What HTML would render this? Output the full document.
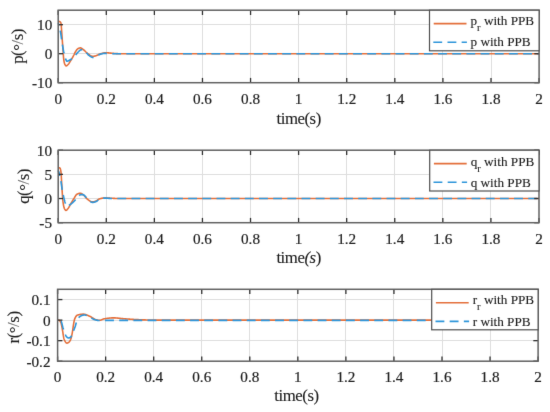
<!DOCTYPE html>
<html><head><meta charset="utf-8"><title>PPB angular rates</title>
<style>
html,body{margin:0;padding:0;background:#fff;width:550px;height:412px;overflow:hidden}
svg{display:block}
.gr{stroke:#dedede;stroke-width:1;fill:none}
.ax{stroke:#303030;stroke-width:1.3;fill:none}
.box{stroke:#626262;stroke-width:1.5;fill:none}
.or{stroke:#E4703C;stroke-width:1.6;fill:none;stroke-linejoin:round}
.bl{stroke:#2E96DA;stroke-width:1.65;fill:none;stroke-dasharray:8.87 5.3;stroke-linejoin:round}
.leg{fill:#fff;stroke:#505050;stroke-width:1.2}
text{font-family:"Liberation Serif", "Times New Roman", serif;fill:#1e1e1e;stroke:#1e1e1e;stroke-width:0.12px}
.tk{font-size:15.2px;stroke-width:0.2px}
.lb{font-size:16.8px;letter-spacing:-0.45px}
.lg{font-size:13.2px}
.sub{font-size:10.5px}
</style></head><body>
<svg width="550" height="412" viewBox="0 0 550 412">
<defs><filter id="soft" x="0" y="0" width="100%" height="100%" color-interpolation-filters="sRGB"><feConvolveMatrix order="3" kernelMatrix="0.00524 0.06192 0.00524 0.06192 0.73137 0.06192 0.00524 0.06192 0.00524" edgeMode="duplicate"/></filter></defs>
<rect width="550" height="412" fill="#fff"/>
<g filter="url(#soft)">
<rect width="550" height="412" fill="#fff"/>
<line x1="106.5" y1="10.2" x2="106.5" y2="82.7" class="gr"/>
<line x1="154.5" y1="10.2" x2="154.5" y2="82.7" class="gr"/>
<line x1="202.5" y1="10.2" x2="202.5" y2="82.7" class="gr"/>
<line x1="250.5" y1="10.2" x2="250.5" y2="82.7" class="gr"/>
<line x1="298.5" y1="10.2" x2="298.5" y2="82.7" class="gr"/>
<line x1="346.5" y1="10.2" x2="346.5" y2="82.7" class="gr"/>
<line x1="394.5" y1="10.2" x2="394.5" y2="82.7" class="gr"/>
<line x1="442.5" y1="10.2" x2="442.5" y2="82.7" class="gr"/>
<line x1="491.5" y1="10.2" x2="491.5" y2="82.7" class="gr"/>
<line x1="58.2" y1="53.5" x2="539.1" y2="53.5" class="gr"/>
<line x1="58.2" y1="24.5" x2="539.1" y2="24.5" class="gr"/>
<path d="M58.2 21.22 L58.44 21.23 L58.68 21.27 L58.92 21.34 L59.16 21.42 L59.41 21.52 L59.65 21.64 L59.89 21.76 L60.13 21.91 L60.37 22.11 L60.61 22.41 L60.85 22.82 L61.09 23.86 L61.33 26.44 L61.57 29.96 L61.82 33.71 L62.06 37.04 L62.3 40.21 L62.54 43.45 L62.78 46.73 L63.02 49.99 L63.26 53.46 L63.5 57.05 L63.74 59.48 L63.99 61.04 L64.23 62.33 L64.47 63.32 L64.71 64.02 L64.95 64.5 L65.19 64.92 L65.43 65.29 L65.67 65.59 L65.91 65.79 L66.15 65.88 L66.4 65.86 L66.64 65.77 L66.88 65.62 L67.12 65.43 L67.36 65.22 L67.6 64.99 L67.84 64.76 L68.08 64.53 L68.32 64.25 L68.57 63.95 L68.81 63.61 L69.05 63.25 L69.29 62.87 L69.53 62.48 L69.77 62.08 L70.01 61.69 L70.25 61.31 L70.49 60.93 L70.73 60.54 L70.98 60.15 L71.22 59.76 L71.46 59.36 L71.7 58.96 L71.94 58.55 L72.18 58.13 L72.42 57.71 L72.66 57.28 L72.9 56.84 L73.15 56.4 L73.39 55.96 L73.63 55.5 L73.87 55.03 L74.11 54.51 L74.35 53.97 L74.59 53.43 L74.83 52.91 L75.07 52.43 L75.31 52.01 L75.56 51.63 L75.8 51.25 L76.04 50.88 L76.28 50.52 L76.52 50.17 L76.76 49.84 L77 49.54 L77.24 49.26 L77.48 49.01 L77.73 48.79 L77.97 48.62 L78.21 48.49 L78.45 48.39 L78.69 48.29 L78.93 48.2 L79.17 48.12 L79.41 48.05 L79.65 47.99 L79.89 47.94 L80.14 47.91 L80.38 47.9 L80.62 47.92 L80.86 47.97 L81.1 48.06 L81.34 48.18 L81.58 48.32 L81.82 48.48 L82.06 48.65 L82.31 48.82 L82.55 49 L82.79 49.18 L83.03 49.34 L83.27 49.51 L83.51 49.7 L83.75 49.89 L83.99 50.1 L84.23 50.32 L84.47 50.55 L84.72 50.78 L84.96 51.02 L85.2 51.27 L85.44 51.51 L85.68 51.76 L85.92 52 L86.16 52.25 L86.4 52.48 L86.64 52.71 L86.89 52.93 L87.13 53.14 L87.37 53.34 L87.61 53.53 L87.85 53.7 L88.09 53.87 L88.33 54.04 L88.57 54.21 L88.81 54.39 L89.05 54.57 L89.3 54.75 L89.54 54.92 L89.78 55.09 L90.02 55.26 L90.26 55.42 L90.5 55.57 L90.74 55.71 L90.98 55.84 L91.22 55.96 L91.47 56.06 L91.71 56.15 L91.95 56.22 L92.19 56.27 L92.43 56.3 L92.67 56.31 L92.91 56.31 L93.15 56.29 L93.39 56.27 L93.63 56.25 L93.88 56.22 L94.12 56.18 L94.36 56.14 L94.6 56.1 L94.84 56.06 L95.08 56.02 L95.32 55.97 L95.56 55.9 L95.8 55.82 L96.05 55.74 L96.29 55.64 L96.53 55.53 L96.77 55.42 L97.01 55.3 L97.25 55.18 L97.49 55.06 L97.73 54.93 L97.97 54.81 L98.21 54.68 L98.46 54.56 L98.7 54.45 L98.94 54.34 L99.18 54.23 L99.42 54.14 L99.66 54.05 L99.9 53.98 L100.14 53.91 L100.38 53.84 L100.63 53.77 L100.87 53.7 L101.11 53.63 L101.35 53.56 L101.59 53.49 L101.83 53.42 L102.07 53.36 L102.31 53.29 L102.55 53.23 L102.79 53.17 L103.04 53.11 L103.28 53.05 L103.52 53 L103.76 52.95 L104 52.9 L104.24 52.86 L104.48 52.82 L104.72 52.78 L104.96 52.75 L105.21 52.73 L105.45 52.71 L105.69 52.7 L105.93 52.69 L106.17 52.69 L106.41 52.69 L106.65 52.7 L106.89 52.71 L107.13 52.73 L107.37 52.74 L107.62 52.77 L107.86 52.79 L108.1 52.82 L108.34 52.85 L108.58 52.88 L108.82 52.91 L109.06 52.94 L109.3 52.97 L109.54 53 L109.79 53.03 L110.03 53.06 L110.27 53.08 L110.51 53.1 L110.75 53.12 L110.99 53.14 L111.23 53.17 L111.47 53.19 L111.71 53.21 L111.95 53.23 L112.2 53.25 L112.44 53.27 L112.68 53.3 L112.92 53.32 L113.16 53.34 L113.4 53.36 L113.64 53.39 L113.88 53.41 L114.12 53.43 L114.37 53.45 L114.61 53.47 L114.85 53.49 L115.09 53.51 L115.33 53.53 L115.57 53.55 L115.81 53.57 L116.05 53.58 L116.29 53.6 L116.53 53.61 L116.78 53.63 L117.02 53.64 L117.26 53.65 L117.5 53.66 L117.74 53.67 L117.98 53.68 L118.22 53.69 L118.46 53.69 L118.7 53.7 L118.95 53.7 L119.19 53.7 L119.43 53.7 L119.67 53.7 L119.91 53.7 L120.15 53.7 L120.39 53.7 L120.63 53.7 L120.87 53.7 L121.11 53.7 L121.36 53.7 L121.6 53.7 L121.84 53.7 L122.08 53.7 L122.32 53.7 L122.56 53.7 L122.8 53.7 L123.04 53.7 L123.28 53.7 L123.53 53.7 L123.77 53.7 L124.01 53.7 L124.25 53.7 L124.49 53.7 L124.73 53.7 L124.97 53.7 L125.21 53.7 L125.45 53.7 L125.69 53.7 L125.94 53.7 L126.18 53.7 L126.42 53.7 L126.66 53.7 L126.9 53.7 L127.14 53.7 L127.38 53.7 L127.62 53.7 L127.86 53.7 L128.11 53.7 L128.35 53.7 L128.59 53.7 L128.83 53.7 L129.07 53.7 L129.31 53.7 L129.55 53.7 L129.79 53.7 L130.03 53.7 L130.27 53.7 L130.52 53.7 L130.76 53.7 L131 53.7 L131.24 53.7 L131.48 53.7 L131.72 53.7 L131.96 53.7 L132.2 53.7 L132.44 53.7 L132.69 53.7 L132.93 53.7 L133.17 53.7 L133.41 53.7 L133.65 53.7 L133.89 53.7 L134.13 53.7 L134.37 53.7 L134.61 53.7 L134.85 53.7 L135.1 53.7 L135.34 53.7 L135.58 53.7 L135.82 53.7 L136.06 53.7 L136.3 53.7 L136.54 53.7 L136.78 53.7 L137.02 53.7 L137.27 53.7 L137.51 53.7 L137.75 53.7 L137.99 53.7 L138.23 53.7 L138.47 53.7 L138.71 53.7 L138.95 53.7 L139.19 53.7 L139.43 53.7 L139.68 53.7 L139.92 53.7 L140.16 53.7 L140.4 53.7 L140.64 53.7 L140.88 53.7 L141.12 53.7 L141.36 53.7 L141.6 53.7 L141.85 53.7 L142.09 53.7 L142.33 53.7 L142.57 53.7 L142.81 53.7 L143.05 53.7 L143.29 53.7 L143.53 53.7 L143.77 53.7 L144.01 53.7 L144.26 53.7 L144.5 53.7 L144.74 53.7 L144.98 53.7 L145.22 53.7 L145.46 53.7 L145.7 53.7 L145.94 53.7 L146.18 53.7 L146.43 53.7 L146.67 53.7 L146.91 53.7 L147.15 53.7 L147.39 53.7 L147.63 53.7 L147.87 53.7 L148.11 53.7 L148.35 53.7 L148.59 53.7 L148.84 53.7 L149.08 53.7 L149.32 53.7 L149.56 53.7 L149.8 53.7 L150.04 53.7 L150.28 53.7 L150.52 53.7 L150.76 53.7 L151.01 53.7 L151.25 53.7 L151.49 53.7 L151.73 53.7 L151.97 53.7 L152.21 53.7 L152.45 53.7 L152.69 53.7 L152.93 53.7 L153.17 53.7 L153.42 53.7 L153.66 53.7 L153.9 53.7 L154.14 53.7 L154.38 53.7 L156.78 53.7 L166.59 53.7 L176.39 53.7 L186.19 53.7 L196 53.7 L205.8 53.7 L215.6 53.7 L225.41 53.7 L235.21 53.7 L245.01 53.7 L254.81 53.7 L264.62 53.7 L274.42 53.7 L284.22 53.7 L294.03 53.7 L303.83 53.7 L313.63 53.7 L323.43 53.7 L333.24 53.7 L343.04 53.7 L352.84 53.7 L362.65 53.7 L372.45 53.7 L382.25 53.7 L392.06 53.7 L401.86 53.7 L411.66 53.7 L421.46 53.7 L431.27 53.7 L441.07 53.7 L450.87 53.7 L460.68 53.7 L470.48 53.7 L480.28 53.7 L490.09 53.7 L499.89 53.7 L509.69 53.7 L519.49 53.7 L529.3 53.7 L539.1 53.7" class="or"/>
<path d="M58.2 23.25 L58.44 23.84 L58.68 24.52 L58.92 25.29 L59.16 26.14 L59.41 27.07 L59.65 28.06 L59.89 29.1 L60.13 30.2 L60.37 31.34 L60.61 32.57 L60.85 34 L61.09 35.6 L61.33 37.31 L61.57 39.06 L61.82 40.81 L62.06 42.49 L62.3 44.05 L62.54 45.48 L62.78 46.89 L63.02 48.26 L63.26 49.58 L63.5 50.83 L63.74 51.99 L63.99 53.06 L64.23 54.11 L64.47 55.1 L64.71 56.03 L64.95 56.87 L65.19 57.61 L65.43 58.28 L65.67 58.96 L65.91 59.63 L66.15 60.23 L66.4 60.73 L66.64 61.08 L66.88 61.23 L67.12 61.23 L67.36 61.18 L67.6 61.11 L67.84 61.01 L68.08 60.9 L68.32 60.79 L68.57 60.68 L68.81 60.57 L69.05 60.46 L69.29 60.34 L69.53 60.22 L69.77 60.08 L70.01 59.95 L70.25 59.8 L70.49 59.65 L70.73 59.5 L70.98 59.34 L71.22 59.17 L71.46 59 L71.7 58.83 L71.94 58.65 L72.18 58.47 L72.42 58.28 L72.66 58.09 L72.9 57.9 L73.15 57.7 L73.39 57.5 L73.63 57.29 L73.87 57.06 L74.11 56.82 L74.35 56.56 L74.59 56.29 L74.83 56.01 L75.07 55.72 L75.31 55.43 L75.56 55.13 L75.8 54.82 L76.04 54.51 L76.28 54.21 L76.52 53.9 L76.76 53.6 L77 53.31 L77.24 53.02 L77.48 52.74 L77.73 52.48 L77.97 52.22 L78.21 51.98 L78.45 51.74 L78.69 51.5 L78.93 51.24 L79.17 50.99 L79.41 50.75 L79.65 50.53 L79.89 50.33 L80.14 50.16 L80.38 50.02 L80.62 49.93 L80.86 49.88 L81.1 49.82 L81.34 49.77 L81.58 49.73 L81.82 49.69 L82.06 49.66 L82.31 49.65 L82.55 49.64 L82.79 49.66 L83.03 49.73 L83.27 49.84 L83.51 49.98 L83.75 50.15 L83.99 50.35 L84.23 50.56 L84.47 50.78 L84.72 51.01 L84.96 51.24 L85.2 51.46 L85.44 51.67 L85.68 51.88 L85.92 52.11 L86.16 52.37 L86.4 52.63 L86.64 52.91 L86.89 53.2 L87.13 53.48 L87.37 53.77 L87.61 54.05 L87.85 54.33 L88.09 54.59 L88.33 54.83 L88.57 55.06 L88.81 55.27 L89.05 55.44 L89.3 55.61 L89.54 55.78 L89.78 55.94 L90.02 56.11 L90.26 56.28 L90.5 56.44 L90.74 56.59 L90.98 56.74 L91.22 56.88 L91.47 57 L91.71 57.12 L91.95 57.22 L92.19 57.31 L92.43 57.38 L92.67 57.43 L92.91 57.46 L93.15 57.47 L93.39 57.46 L93.63 57.44 L93.88 57.4 L94.12 57.35 L94.36 57.28 L94.6 57.21 L94.84 57.14 L95.08 57.05 L95.32 56.96 L95.56 56.87 L95.8 56.78 L96.05 56.68 L96.29 56.59 L96.53 56.49 L96.77 56.36 L97.01 56.22 L97.25 56.07 L97.49 55.91 L97.73 55.73 L97.97 55.56 L98.21 55.38 L98.46 55.2 L98.7 55.03 L98.94 54.87 L99.18 54.72 L99.42 54.58 L99.66 54.45 L99.9 54.35 L100.14 54.27 L100.38 54.2 L100.63 54.13 L100.87 54.06 L101.11 53.99 L101.35 53.93 L101.59 53.87 L101.83 53.81 L102.07 53.75 L102.31 53.69 L102.55 53.64 L102.79 53.6 L103.04 53.56 L103.28 53.52 L103.52 53.49 L103.76 53.46 L104 53.44 L104.24 53.42 L104.48 53.41 L104.72 53.41 L104.96 53.41 L105.21 53.41 L105.45 53.42 L105.69 53.43 L105.93 53.43 L106.17 53.44 L106.41 53.45 L106.65 53.46 L106.89 53.48 L107.13 53.49 L107.37 53.5 L107.62 53.52 L107.86 53.53 L108.1 53.54 L108.34 53.56 L108.58 53.57 L108.82 53.59 L109.06 53.6 L109.3 53.61 L109.54 53.63 L109.79 53.64 L110.03 53.65 L110.27 53.66 L110.51 53.67 L110.75 53.68 L110.99 53.69 L111.23 53.69 L111.47 53.7 L111.71 53.7 L111.95 53.7 L112.2 53.7 L112.44 53.7 L112.68 53.7 L112.92 53.7 L113.16 53.7 L113.4 53.7 L113.64 53.7 L113.88 53.7 L114.12 53.7 L114.37 53.7 L114.61 53.7 L114.85 53.7 L115.09 53.7 L115.33 53.7 L115.57 53.7 L115.81 53.7 L116.05 53.7 L116.29 53.7 L116.53 53.7 L116.78 53.7 L117.02 53.7 L117.26 53.7 L117.5 53.7 L117.74 53.7 L117.98 53.7 L118.22 53.7 L118.46 53.7 L118.7 53.7 L118.95 53.7 L119.19 53.7 L119.43 53.7 L119.67 53.7 L119.91 53.7 L120.15 53.7 L120.39 53.7 L120.63 53.7 L120.87 53.7 L121.11 53.7 L121.36 53.7 L121.6 53.7 L121.84 53.7 L122.08 53.7 L122.32 53.7 L122.56 53.7 L122.8 53.7 L123.04 53.7 L123.28 53.7 L123.53 53.7 L123.77 53.7 L124.01 53.7 L124.25 53.7 L124.49 53.7 L124.73 53.7 L124.97 53.7 L125.21 53.7 L125.45 53.7 L125.69 53.7 L125.94 53.7 L126.18 53.7 L126.42 53.7 L126.66 53.7 L126.9 53.7 L127.14 53.7 L127.38 53.7 L127.62 53.7 L127.86 53.7 L128.11 53.7 L128.35 53.7 L128.59 53.7 L128.83 53.7 L129.07 53.7 L129.31 53.7 L129.55 53.7 L129.79 53.7 L130.03 53.7 L130.27 53.7 L130.52 53.7 L130.76 53.7 L131 53.7 L131.24 53.7 L131.48 53.7 L131.72 53.7 L131.96 53.7 L132.2 53.7 L132.44 53.7 L132.69 53.7 L132.93 53.7 L133.17 53.7 L133.41 53.7 L133.65 53.7 L133.89 53.7 L134.13 53.7 L134.37 53.7 L134.61 53.7 L134.85 53.7 L135.1 53.7 L135.34 53.7 L135.58 53.7 L135.82 53.7 L136.06 53.7 L136.3 53.7 L136.54 53.7 L136.78 53.7 L137.02 53.7 L137.27 53.7 L137.51 53.7 L137.75 53.7 L137.99 53.7 L138.23 53.7 L138.47 53.7 L138.71 53.7 L138.95 53.7 L139.19 53.7 L139.43 53.7 L139.68 53.7 L139.92 53.7 L140.16 53.7 L140.4 53.7 L140.64 53.7 L140.88 53.7 L141.12 53.7 L141.36 53.7 L141.6 53.7 L141.85 53.7 L142.09 53.7 L142.33 53.7 L142.57 53.7 L142.81 53.7 L143.05 53.7 L143.29 53.7 L143.53 53.7 L143.77 53.7 L144.01 53.7 L144.26 53.7 L144.5 53.7 L144.74 53.7 L144.98 53.7 L145.22 53.7 L145.46 53.7 L145.7 53.7 L145.94 53.7 L146.18 53.7 L146.43 53.7 L146.67 53.7 L146.91 53.7 L147.15 53.7 L147.39 53.7 L147.63 53.7 L147.87 53.7 L148.11 53.7 L148.35 53.7 L148.59 53.7 L148.84 53.7 L149.08 53.7 L149.32 53.7 L149.56 53.7 L149.8 53.7 L150.04 53.7 L150.28 53.7 L150.52 53.7 L150.76 53.7 L151.01 53.7 L151.25 53.7 L151.49 53.7 L151.73 53.7 L151.97 53.7 L152.21 53.7 L152.45 53.7 L152.69 53.7 L152.93 53.7 L153.17 53.7 L153.42 53.7 L153.66 53.7 L153.9 53.7 L154.14 53.7 L154.38 53.7 L156.78 53.7 L166.59 53.7 L176.39 53.7 L186.19 53.7 L196 53.7 L205.8 53.7 L215.6 53.7 L225.41 53.7 L235.21 53.7 L245.01 53.7 L254.81 53.7 L264.62 53.7 L274.42 53.7 L284.22 53.7 L294.03 53.7 L303.83 53.7 L313.63 53.7 L323.43 53.7 L333.24 53.7 L343.04 53.7 L352.84 53.7 L362.65 53.7 L372.45 53.7 L382.25 53.7 L392.06 53.7 L401.86 53.7 L411.66 53.7 L421.46 53.7 L431.27 53.7 L441.07 53.7 L450.87 53.7 L460.68 53.7 L470.48 53.7 L480.28 53.7 L490.09 53.7 L499.89 53.7 L509.69 53.7 L519.49 53.7 L529.3 53.7 L539.1 53.7" class="bl" stroke-dashoffset="6.53"/>
<line x1="58.2" y1="82.7" x2="58.2" y2="77.9" class="ax"/>
<line x1="58.2" y1="10.2" x2="58.2" y2="15" class="ax"/>
<line x1="106.29" y1="82.7" x2="106.29" y2="77.9" class="ax"/>
<line x1="106.29" y1="10.2" x2="106.29" y2="15" class="ax"/>
<line x1="154.38" y1="82.7" x2="154.38" y2="77.9" class="ax"/>
<line x1="154.38" y1="10.2" x2="154.38" y2="15" class="ax"/>
<line x1="202.47" y1="82.7" x2="202.47" y2="77.9" class="ax"/>
<line x1="202.47" y1="10.2" x2="202.47" y2="15" class="ax"/>
<line x1="250.56" y1="82.7" x2="250.56" y2="77.9" class="ax"/>
<line x1="250.56" y1="10.2" x2="250.56" y2="15" class="ax"/>
<line x1="298.65" y1="82.7" x2="298.65" y2="77.9" class="ax"/>
<line x1="298.65" y1="10.2" x2="298.65" y2="15" class="ax"/>
<line x1="346.74" y1="82.7" x2="346.74" y2="77.9" class="ax"/>
<line x1="346.74" y1="10.2" x2="346.74" y2="15" class="ax"/>
<line x1="394.83" y1="82.7" x2="394.83" y2="77.9" class="ax"/>
<line x1="394.83" y1="10.2" x2="394.83" y2="15" class="ax"/>
<line x1="442.92" y1="82.7" x2="442.92" y2="77.9" class="ax"/>
<line x1="442.92" y1="10.2" x2="442.92" y2="15" class="ax"/>
<line x1="491.01" y1="82.7" x2="491.01" y2="77.9" class="ax"/>
<line x1="491.01" y1="10.2" x2="491.01" y2="15" class="ax"/>
<line x1="539.1" y1="82.7" x2="539.1" y2="77.9" class="ax"/>
<line x1="539.1" y1="10.2" x2="539.1" y2="15" class="ax"/>
<line x1="58.2" y1="82.7" x2="63" y2="82.7" class="ax"/>
<line x1="539.1" y1="82.7" x2="534.3" y2="82.7" class="ax"/>
<line x1="58.2" y1="53.7" x2="63" y2="53.7" class="ax"/>
<line x1="539.1" y1="53.7" x2="534.3" y2="53.7" class="ax"/>
<line x1="58.2" y1="24.7" x2="63" y2="24.7" class="ax"/>
<line x1="539.1" y1="24.7" x2="534.3" y2="24.7" class="ax"/>
<rect x="58.2" y="10.2" width="480.9" height="72.5" class="box"/>
<text x="58.2" y="103.9" class="tk" text-anchor="middle">0</text>
<text x="106.29" y="103.9" class="tk" text-anchor="middle">0.2</text>
<text x="154.38" y="103.9" class="tk" text-anchor="middle">0.4</text>
<text x="202.47" y="103.9" class="tk" text-anchor="middle">0.6</text>
<text x="250.56" y="103.9" class="tk" text-anchor="middle">0.8</text>
<text x="298.65" y="103.9" class="tk" text-anchor="middle">1</text>
<text x="346.74" y="103.9" class="tk" text-anchor="middle">1.2</text>
<text x="394.83" y="103.9" class="tk" text-anchor="middle">1.4</text>
<text x="442.92" y="103.9" class="tk" text-anchor="middle">1.6</text>
<text x="491.01" y="103.9" class="tk" text-anchor="middle">1.8</text>
<text x="539.1" y="103.9" class="tk" text-anchor="middle">2</text>
<text x="52.3" y="88.2" class="tk" text-anchor="end">-10</text>
<text x="52.3" y="59.2" class="tk" text-anchor="end">0</text>
<text x="52.3" y="30.2" class="tk" text-anchor="end">10</text>
<text x="298.65" y="124" class="lb" text-anchor="middle">time(s)</text>
<text transform="translate(22.9,46.45) rotate(-90)" x="0" y="0" class="lb" text-anchor="middle">p(<tspan dy="2.2">°</tspan><tspan dy="-2.2" fill="#777" stroke="#777">/</tspan>s)</text>
<rect x="429.5" y="10.2" width="109.6" height="40.6" class="leg"/>
<line x1="433.7" y1="23.6" x2="466.5" y2="23.6" class="or"/>
<line x1="433.3" y1="42.2" x2="466.9" y2="42.2" class="bl"/>
<text x="470.5" y="25.3" class="lg">p<tspan class="sub" dy="5.5">r</tspan><tspan dy="-5.5"> with PPB</tspan></text>
<text x="470.5" y="46.4" class="lg">p with PPB</text>
<line x1="106.5" y1="150.2" x2="106.5" y2="222.7" class="gr"/>
<line x1="154.5" y1="150.2" x2="154.5" y2="222.7" class="gr"/>
<line x1="202.5" y1="150.2" x2="202.5" y2="222.7" class="gr"/>
<line x1="250.5" y1="150.2" x2="250.5" y2="222.7" class="gr"/>
<line x1="298.5" y1="150.2" x2="298.5" y2="222.7" class="gr"/>
<line x1="346.5" y1="150.2" x2="346.5" y2="222.7" class="gr"/>
<line x1="394.5" y1="150.2" x2="394.5" y2="222.7" class="gr"/>
<line x1="442.5" y1="150.2" x2="442.5" y2="222.7" class="gr"/>
<line x1="490.5" y1="150.2" x2="490.5" y2="222.7" class="gr"/>
<line x1="58.2" y1="198.5" x2="539" y2="198.5" class="gr"/>
<line x1="58.2" y1="174.5" x2="539" y2="174.5" class="gr"/>
<path d="M58.2 167.6 L58.44 167.61 L58.68 167.64 L58.92 167.68 L59.16 167.74 L59.41 167.83 L59.65 167.93 L59.89 168.05 L60.13 168.29 L60.37 168.92 L60.61 169.88 L60.85 171.1 L61.09 173.06 L61.33 176.73 L61.57 181.31 L61.82 185.91 L62.06 189.69 L62.3 193.18 L62.54 196.57 L62.78 199.59 L63.02 201.95 L63.26 203.62 L63.5 205.09 L63.74 206.34 L63.98 207.34 L64.23 208.07 L64.47 208.58 L64.71 209.05 L64.95 209.46 L65.19 209.82 L65.43 210.1 L65.67 210.29 L65.91 210.37 L66.15 210.35 L66.39 210.24 L66.64 210.07 L66.88 209.85 L67.12 209.59 L67.36 209.31 L67.6 209.02 L67.84 208.74 L68.08 208.45 L68.32 208.13 L68.56 207.77 L68.8 207.38 L69.05 206.97 L69.29 206.54 L69.53 206.1 L69.77 205.65 L70.01 205.19 L70.25 204.74 L70.49 204.29 L70.73 203.86 L70.97 203.43 L71.21 203.03 L71.46 202.61 L71.7 202.2 L71.94 201.78 L72.18 201.37 L72.42 200.95 L72.66 200.54 L72.9 200.14 L73.14 199.74 L73.38 199.34 L73.62 198.96 L73.87 198.58 L74.11 198.21 L74.35 197.81 L74.59 197.41 L74.83 197 L75.07 196.59 L75.31 196.19 L75.55 195.81 L75.79 195.44 L76.03 195.11 L76.28 194.81 L76.52 194.56 L76.76 194.35 L77 194.2 L77.24 194.08 L77.48 193.97 L77.72 193.87 L77.96 193.77 L78.2 193.67 L78.44 193.58 L78.69 193.5 L78.93 193.43 L79.17 193.37 L79.41 193.32 L79.65 193.28 L79.89 193.24 L80.13 193.22 L80.37 193.22 L80.61 193.23 L80.85 193.29 L81.1 193.38 L81.34 193.49 L81.58 193.63 L81.82 193.78 L82.06 193.95 L82.3 194.13 L82.54 194.31 L82.78 194.49 L83.02 194.66 L83.26 194.84 L83.51 195.03 L83.75 195.25 L83.99 195.48 L84.23 195.72 L84.47 195.97 L84.71 196.24 L84.95 196.51 L85.19 196.79 L85.43 197.06 L85.67 197.34 L85.92 197.62 L86.16 197.89 L86.4 198.16 L86.64 198.42 L86.88 198.66 L87.12 198.9 L87.36 199.12 L87.6 199.32 L87.84 199.5 L88.08 199.68 L88.33 199.86 L88.57 200.04 L88.81 200.22 L89.05 200.41 L89.29 200.59 L89.53 200.77 L89.77 200.94 L90.01 201.1 L90.25 201.25 L90.49 201.4 L90.74 201.52 L90.98 201.64 L91.22 201.73 L91.46 201.81 L91.7 201.87 L91.94 201.91 L92.18 201.92 L92.42 201.91 L92.66 201.9 L92.9 201.87 L93.15 201.84 L93.39 201.8 L93.63 201.76 L93.87 201.71 L94.11 201.66 L94.35 201.6 L94.59 201.55 L94.83 201.49 L95.07 201.43 L95.31 201.36 L95.56 201.27 L95.8 201.16 L96.04 201.03 L96.28 200.9 L96.52 200.75 L96.76 200.59 L97 200.43 L97.24 200.26 L97.48 200.09 L97.72 199.93 L97.97 199.76 L98.21 199.6 L98.45 199.44 L98.69 199.29 L98.93 199.16 L99.17 199.04 L99.41 198.93 L99.65 198.84 L99.89 198.77 L100.13 198.7 L100.38 198.64 L100.62 198.58 L100.86 198.52 L101.1 198.46 L101.34 198.4 L101.58 198.35 L101.82 198.3 L102.06 198.25 L102.3 198.2 L102.54 198.16 L102.79 198.12 L103.03 198.08 L103.27 198.05 L103.51 198.02 L103.75 197.99 L103.99 197.98 L104.23 197.96 L104.47 197.96 L104.71 197.95 L104.95 197.95 L105.2 197.96 L105.44 197.96 L105.68 197.97 L105.92 197.98 L106.16 197.98 L106.4 197.99 L106.64 198.01 L106.88 198.02 L107.12 198.03 L107.36 198.04 L107.61 198.05 L107.85 198.07 L108.09 198.08 L108.33 198.09 L108.57 198.1 L108.81 198.12 L109.05 198.13 L109.29 198.14 L109.53 198.15 L109.77 198.16 L110.02 198.17 L110.26 198.18 L110.5 198.19 L110.74 198.2 L110.98 198.22 L111.22 198.23 L111.46 198.24 L111.7 198.25 L111.94 198.26 L112.18 198.28 L112.43 198.29 L112.67 198.3 L112.91 198.32 L113.15 198.33 L113.39 198.34 L113.63 198.35 L113.87 198.37 L114.11 198.38 L114.35 198.39 L114.59 198.4 L114.84 198.42 L115.08 198.43 L115.32 198.44 L115.56 198.45 L115.8 198.46 L116.04 198.47 L116.28 198.48 L116.52 198.49 L116.76 198.49 L117 198.5 L117.25 198.51 L117.49 198.51 L117.73 198.52 L117.97 198.52 L118.21 198.53 L118.45 198.53 L118.69 198.53 L118.93 198.53 L119.17 198.53 L119.41 198.53 L119.66 198.53 L119.9 198.53 L120.14 198.53 L120.38 198.53 L120.62 198.53 L120.86 198.53 L121.1 198.53 L121.34 198.53 L121.58 198.53 L121.82 198.53 L122.07 198.53 L122.31 198.53 L122.55 198.53 L122.79 198.53 L123.03 198.53 L123.27 198.53 L123.51 198.53 L123.75 198.53 L123.99 198.53 L124.23 198.53 L124.48 198.53 L124.72 198.53 L124.96 198.53 L125.2 198.53 L125.44 198.53 L125.68 198.53 L125.92 198.53 L126.16 198.53 L126.4 198.53 L126.64 198.53 L126.89 198.53 L127.13 198.53 L127.37 198.53 L127.61 198.53 L127.85 198.53 L128.09 198.53 L128.33 198.53 L128.57 198.53 L128.81 198.53 L129.05 198.53 L129.3 198.53 L129.54 198.53 L129.78 198.53 L130.02 198.53 L130.26 198.53 L130.5 198.53 L130.74 198.53 L130.98 198.53 L131.22 198.53 L131.46 198.53 L131.71 198.53 L131.95 198.53 L132.19 198.53 L132.43 198.53 L132.67 198.53 L132.91 198.53 L133.15 198.53 L133.39 198.53 L133.63 198.53 L133.87 198.53 L134.12 198.53 L134.36 198.53 L134.6 198.53 L134.84 198.53 L135.08 198.53 L135.32 198.53 L135.56 198.53 L135.8 198.53 L136.04 198.53 L136.28 198.53 L136.53 198.53 L136.77 198.53 L137.01 198.53 L137.25 198.53 L137.49 198.53 L137.73 198.53 L137.97 198.53 L138.21 198.53 L138.45 198.53 L138.69 198.53 L138.94 198.53 L139.18 198.53 L139.42 198.53 L139.66 198.53 L139.9 198.53 L140.14 198.53 L140.38 198.53 L140.62 198.53 L140.86 198.53 L141.1 198.53 L141.35 198.53 L141.59 198.53 L141.83 198.53 L142.07 198.53 L142.31 198.53 L142.55 198.53 L142.79 198.53 L143.03 198.53 L143.27 198.53 L143.51 198.53 L143.76 198.53 L144 198.53 L144.24 198.53 L144.48 198.53 L144.72 198.53 L144.96 198.53 L145.2 198.53 L145.44 198.53 L145.68 198.53 L145.92 198.53 L146.17 198.53 L146.41 198.53 L146.65 198.53 L146.89 198.53 L147.13 198.53 L147.37 198.53 L147.61 198.53 L147.85 198.53 L148.09 198.53 L148.33 198.53 L148.58 198.53 L148.82 198.53 L149.06 198.53 L149.3 198.53 L149.54 198.53 L149.78 198.53 L150.02 198.53 L150.26 198.53 L150.5 198.53 L150.74 198.53 L150.99 198.53 L151.23 198.53 L151.47 198.53 L151.71 198.53 L151.95 198.53 L152.19 198.53 L152.43 198.53 L152.67 198.53 L152.91 198.53 L153.15 198.53 L153.4 198.53 L153.64 198.53 L153.88 198.53 L154.12 198.53 L154.36 198.53 L156.76 198.53 L166.56 198.53 L176.37 198.53 L186.17 198.53 L195.97 198.53 L205.77 198.53 L215.57 198.53 L225.37 198.53 L235.17 198.53 L244.97 198.53 L254.77 198.53 L264.57 198.53 L274.38 198.53 L284.18 198.53 L293.98 198.53 L303.78 198.53 L313.58 198.53 L323.38 198.53 L333.18 198.53 L342.98 198.53 L352.78 198.53 L362.58 198.53 L372.38 198.53 L382.19 198.53 L391.99 198.53 L401.79 198.53 L411.59 198.53 L421.39 198.53 L431.19 198.53 L440.99 198.53 L450.79 198.53 L460.59 198.53 L470.39 198.53 L480.19 198.53 L490 198.53 L499.8 198.53 L509.6 198.53 L519.4 198.53 L529.2 198.53 L539 198.53" class="or"/>
<path d="M58.2 170.5 L58.44 170.99 L58.68 171.59 L58.92 172.28 L59.16 173.06 L59.41 173.92 L59.65 174.84 L59.89 175.82 L60.13 176.86 L60.37 177.93 L60.61 179.1 L60.85 180.52 L61.09 182.12 L61.33 183.84 L61.57 185.6 L61.82 187.34 L62.06 188.98 L62.3 190.46 L62.54 191.75 L62.78 192.97 L63.02 194.14 L63.26 195.24 L63.5 196.3 L63.74 197.33 L63.98 198.33 L64.23 199.33 L64.47 200.31 L64.71 201.23 L64.95 202.05 L65.19 202.75 L65.43 203.34 L65.67 203.94 L65.91 204.51 L66.15 205.05 L66.39 205.52 L66.64 205.89 L66.88 206.15 L67.12 206.26 L67.36 206.25 L67.6 206.2 L67.84 206.12 L68.08 206 L68.32 205.86 L68.56 205.71 L68.8 205.54 L69.05 205.36 L69.29 205.18 L69.53 205.01 L69.77 204.84 L70.01 204.69 L70.25 204.52 L70.49 204.35 L70.73 204.18 L70.97 204 L71.21 203.81 L71.46 203.62 L71.7 203.43 L71.94 203.23 L72.18 203.02 L72.42 202.81 L72.66 202.6 L72.9 202.39 L73.14 202.17 L73.38 201.95 L73.62 201.72 L73.87 201.48 L74.11 201.23 L74.35 200.97 L74.59 200.7 L74.83 200.43 L75.07 200.15 L75.31 199.86 L75.55 199.58 L75.79 199.29 L76.03 199 L76.28 198.71 L76.52 198.43 L76.76 198.14 L77 197.87 L77.24 197.6 L77.48 197.34 L77.72 197.09 L77.96 196.85 L78.2 196.62 L78.44 196.39 L78.69 196.14 L78.93 195.88 L79.17 195.62 L79.41 195.38 L79.65 195.15 L79.89 194.96 L80.13 194.81 L80.37 194.71 L80.61 194.67 L80.85 194.67 L81.1 194.67 L81.34 194.67 L81.58 194.67 L81.82 194.67 L82.06 194.67 L82.3 194.67 L82.54 194.67 L82.78 194.67 L83.02 194.67 L83.26 194.69 L83.51 194.78 L83.75 194.91 L83.99 195.09 L84.23 195.29 L84.47 195.53 L84.71 195.78 L84.95 196.05 L85.19 196.32 L85.43 196.59 L85.67 196.84 L85.92 197.08 L86.16 197.32 L86.4 197.58 L86.64 197.85 L86.88 198.13 L87.12 198.42 L87.36 198.72 L87.6 199.01 L87.84 199.29 L88.08 199.57 L88.33 199.82 L88.57 200.06 L88.81 200.28 L89.05 200.47 L89.29 200.65 L89.53 200.83 L89.77 201.01 L90.01 201.19 L90.25 201.36 L90.49 201.53 L90.74 201.69 L90.98 201.84 L91.22 201.98 L91.46 202.1 L91.7 202.2 L91.94 202.29 L92.18 202.35 L92.42 202.39 L92.66 202.4 L92.9 202.39 L93.15 202.37 L93.39 202.34 L93.63 202.3 L93.87 202.25 L94.11 202.19 L94.35 202.12 L94.59 202.05 L94.83 201.97 L95.07 201.88 L95.31 201.79 L95.56 201.7 L95.8 201.61 L96.04 201.52 L96.28 201.42 L96.52 201.32 L96.76 201.18 L97 201.02 L97.24 200.85 L97.48 200.67 L97.72 200.47 L97.97 200.27 L98.21 200.07 L98.45 199.88 L98.69 199.69 L98.93 199.51 L99.17 199.35 L99.41 199.21 L99.65 199.09 L99.89 199.01 L100.13 198.93 L100.38 198.86 L100.62 198.78 L100.86 198.71 L101.1 198.64 L101.34 198.57 L101.58 198.51 L101.82 198.45 L102.06 198.39 L102.3 198.33 L102.54 198.28 L102.79 198.24 L103.03 198.19 L103.27 198.16 L103.51 198.12 L103.75 198.1 L103.99 198.08 L104.23 198.06 L104.47 198.05 L104.71 198.05 L104.95 198.05 L105.2 198.06 L105.44 198.07 L105.68 198.08 L105.92 198.09 L106.16 198.1 L106.4 198.12 L106.64 198.14 L106.88 198.16 L107.12 198.18 L107.36 198.2 L107.61 198.23 L107.85 198.25 L108.09 198.27 L108.33 198.3 L108.57 198.32 L108.81 198.35 L109.05 198.37 L109.29 198.39 L109.53 198.41 L109.77 198.43 L110.02 198.45 L110.26 198.47 L110.5 198.49 L110.74 198.5 L110.98 198.51 L111.22 198.52 L111.46 198.53 L111.7 198.53 L111.94 198.53 L112.18 198.53 L112.43 198.53 L112.67 198.53 L112.91 198.53 L113.15 198.53 L113.39 198.53 L113.63 198.53 L113.87 198.53 L114.11 198.53 L114.35 198.53 L114.59 198.53 L114.84 198.53 L115.08 198.53 L115.32 198.53 L115.56 198.53 L115.8 198.53 L116.04 198.53 L116.28 198.53 L116.52 198.53 L116.76 198.53 L117 198.53 L117.25 198.53 L117.49 198.53 L117.73 198.53 L117.97 198.53 L118.21 198.53 L118.45 198.53 L118.69 198.53 L118.93 198.53 L119.17 198.53 L119.41 198.53 L119.66 198.53 L119.9 198.53 L120.14 198.53 L120.38 198.53 L120.62 198.53 L120.86 198.53 L121.1 198.53 L121.34 198.53 L121.58 198.53 L121.82 198.53 L122.07 198.53 L122.31 198.53 L122.55 198.53 L122.79 198.53 L123.03 198.53 L123.27 198.53 L123.51 198.53 L123.75 198.53 L123.99 198.53 L124.23 198.53 L124.48 198.53 L124.72 198.53 L124.96 198.53 L125.2 198.53 L125.44 198.53 L125.68 198.53 L125.92 198.53 L126.16 198.53 L126.4 198.53 L126.64 198.53 L126.89 198.53 L127.13 198.53 L127.37 198.53 L127.61 198.53 L127.85 198.53 L128.09 198.53 L128.33 198.53 L128.57 198.53 L128.81 198.53 L129.05 198.53 L129.3 198.53 L129.54 198.53 L129.78 198.53 L130.02 198.53 L130.26 198.53 L130.5 198.53 L130.74 198.53 L130.98 198.53 L131.22 198.53 L131.46 198.53 L131.71 198.53 L131.95 198.53 L132.19 198.53 L132.43 198.53 L132.67 198.53 L132.91 198.53 L133.15 198.53 L133.39 198.53 L133.63 198.53 L133.87 198.53 L134.12 198.53 L134.36 198.53 L134.6 198.53 L134.84 198.53 L135.08 198.53 L135.32 198.53 L135.56 198.53 L135.8 198.53 L136.04 198.53 L136.28 198.53 L136.53 198.53 L136.77 198.53 L137.01 198.53 L137.25 198.53 L137.49 198.53 L137.73 198.53 L137.97 198.53 L138.21 198.53 L138.45 198.53 L138.69 198.53 L138.94 198.53 L139.18 198.53 L139.42 198.53 L139.66 198.53 L139.9 198.53 L140.14 198.53 L140.38 198.53 L140.62 198.53 L140.86 198.53 L141.1 198.53 L141.35 198.53 L141.59 198.53 L141.83 198.53 L142.07 198.53 L142.31 198.53 L142.55 198.53 L142.79 198.53 L143.03 198.53 L143.27 198.53 L143.51 198.53 L143.76 198.53 L144 198.53 L144.24 198.53 L144.48 198.53 L144.72 198.53 L144.96 198.53 L145.2 198.53 L145.44 198.53 L145.68 198.53 L145.92 198.53 L146.17 198.53 L146.41 198.53 L146.65 198.53 L146.89 198.53 L147.13 198.53 L147.37 198.53 L147.61 198.53 L147.85 198.53 L148.09 198.53 L148.33 198.53 L148.58 198.53 L148.82 198.53 L149.06 198.53 L149.3 198.53 L149.54 198.53 L149.78 198.53 L150.02 198.53 L150.26 198.53 L150.5 198.53 L150.74 198.53 L150.99 198.53 L151.23 198.53 L151.47 198.53 L151.71 198.53 L151.95 198.53 L152.19 198.53 L152.43 198.53 L152.67 198.53 L152.91 198.53 L153.15 198.53 L153.4 198.53 L153.64 198.53 L153.88 198.53 L154.12 198.53 L154.36 198.53 L156.76 198.53 L166.56 198.53 L176.37 198.53 L186.17 198.53 L195.97 198.53 L205.77 198.53 L215.57 198.53 L225.37 198.53 L235.17 198.53 L244.97 198.53 L254.77 198.53 L264.57 198.53 L274.38 198.53 L284.18 198.53 L293.98 198.53 L303.78 198.53 L313.58 198.53 L323.38 198.53 L333.18 198.53 L342.98 198.53 L352.78 198.53 L362.58 198.53 L372.38 198.53 L382.19 198.53 L391.99 198.53 L401.79 198.53 L411.59 198.53 L421.39 198.53 L431.19 198.53 L440.99 198.53 L450.79 198.53 L460.59 198.53 L470.39 198.53 L480.19 198.53 L490 198.53 L499.8 198.53 L509.6 198.53 L519.4 198.53 L529.2 198.53 L539 198.53" class="bl" stroke-dashoffset="3.24"/>
<line x1="58.2" y1="222.7" x2="58.2" y2="217.9" class="ax"/>
<line x1="58.2" y1="150.2" x2="58.2" y2="155" class="ax"/>
<line x1="106.28" y1="222.7" x2="106.28" y2="217.9" class="ax"/>
<line x1="106.28" y1="150.2" x2="106.28" y2="155" class="ax"/>
<line x1="154.36" y1="222.7" x2="154.36" y2="217.9" class="ax"/>
<line x1="154.36" y1="150.2" x2="154.36" y2="155" class="ax"/>
<line x1="202.44" y1="222.7" x2="202.44" y2="217.9" class="ax"/>
<line x1="202.44" y1="150.2" x2="202.44" y2="155" class="ax"/>
<line x1="250.52" y1="222.7" x2="250.52" y2="217.9" class="ax"/>
<line x1="250.52" y1="150.2" x2="250.52" y2="155" class="ax"/>
<line x1="298.6" y1="222.7" x2="298.6" y2="217.9" class="ax"/>
<line x1="298.6" y1="150.2" x2="298.6" y2="155" class="ax"/>
<line x1="346.68" y1="222.7" x2="346.68" y2="217.9" class="ax"/>
<line x1="346.68" y1="150.2" x2="346.68" y2="155" class="ax"/>
<line x1="394.76" y1="222.7" x2="394.76" y2="217.9" class="ax"/>
<line x1="394.76" y1="150.2" x2="394.76" y2="155" class="ax"/>
<line x1="442.84" y1="222.7" x2="442.84" y2="217.9" class="ax"/>
<line x1="442.84" y1="150.2" x2="442.84" y2="155" class="ax"/>
<line x1="490.92" y1="222.7" x2="490.92" y2="217.9" class="ax"/>
<line x1="490.92" y1="150.2" x2="490.92" y2="155" class="ax"/>
<line x1="539" y1="222.7" x2="539" y2="217.9" class="ax"/>
<line x1="539" y1="150.2" x2="539" y2="155" class="ax"/>
<line x1="58.2" y1="222.7" x2="63" y2="222.7" class="ax"/>
<line x1="539" y1="222.7" x2="534.2" y2="222.7" class="ax"/>
<line x1="58.2" y1="198.53" x2="63" y2="198.53" class="ax"/>
<line x1="539" y1="198.53" x2="534.2" y2="198.53" class="ax"/>
<line x1="58.2" y1="174.37" x2="63" y2="174.37" class="ax"/>
<line x1="539" y1="174.37" x2="534.2" y2="174.37" class="ax"/>
<line x1="58.2" y1="150.2" x2="63" y2="150.2" class="ax"/>
<line x1="539" y1="150.2" x2="534.2" y2="150.2" class="ax"/>
<rect x="58.2" y="150.2" width="480.8" height="72.5" class="box"/>
<text x="58.2" y="243.6" class="tk" text-anchor="middle">0</text>
<text x="106.28" y="243.6" class="tk" text-anchor="middle">0.2</text>
<text x="154.36" y="243.6" class="tk" text-anchor="middle">0.4</text>
<text x="202.44" y="243.6" class="tk" text-anchor="middle">0.6</text>
<text x="250.52" y="243.6" class="tk" text-anchor="middle">0.8</text>
<text x="298.6" y="243.6" class="tk" text-anchor="middle">1</text>
<text x="346.68" y="243.6" class="tk" text-anchor="middle">1.2</text>
<text x="394.76" y="243.6" class="tk" text-anchor="middle">1.4</text>
<text x="442.84" y="243.6" class="tk" text-anchor="middle">1.6</text>
<text x="490.92" y="243.6" class="tk" text-anchor="middle">1.8</text>
<text x="539" y="243.6" class="tk" text-anchor="middle">2</text>
<text x="52" y="228.2" class="tk" text-anchor="end">-5</text>
<text x="52" y="204.03" class="tk" text-anchor="end">0</text>
<text x="52" y="179.87" class="tk" text-anchor="end">5</text>
<text x="52" y="155.7" class="tk" text-anchor="end">10</text>
<text x="298.6" y="263.4" class="lb" text-anchor="middle">time<tspan font-style="italic">(s</tspan>)</text>
<text transform="translate(28.8,186.45) rotate(-90)" x="0" y="0" class="lb" text-anchor="middle">q(<tspan dy="2.2">°</tspan><tspan dy="-2.2" fill="#777" stroke="#777">/</tspan>s)</text>
<rect x="429.7" y="150.2" width="109.3" height="40.8" class="leg"/>
<line x1="433.9" y1="163.6" x2="466.7" y2="163.6" class="or"/>
<line x1="433.5" y1="182.2" x2="467.1" y2="182.2" class="bl"/>
<text x="470.7" y="166" class="lg">q<tspan class="sub" dy="5.5">r</tspan><tspan dy="-5.5"> with PPB</tspan></text>
<text x="470.7" y="187.1" class="lg">q with PPB</text>
<line x1="105.5" y1="289.3" x2="105.5" y2="361.2" class="gr"/>
<line x1="153.5" y1="289.3" x2="153.5" y2="361.2" class="gr"/>
<line x1="201.5" y1="289.3" x2="201.5" y2="361.2" class="gr"/>
<line x1="249.5" y1="289.3" x2="249.5" y2="361.2" class="gr"/>
<line x1="297.5" y1="289.3" x2="297.5" y2="361.2" class="gr"/>
<line x1="345.5" y1="289.3" x2="345.5" y2="361.2" class="gr"/>
<line x1="393.5" y1="289.3" x2="393.5" y2="361.2" class="gr"/>
<line x1="442.5" y1="289.3" x2="442.5" y2="361.2" class="gr"/>
<line x1="490.5" y1="289.3" x2="490.5" y2="361.2" class="gr"/>
<line x1="57.6" y1="340.5" x2="538.1" y2="340.5" class="gr"/>
<line x1="57.6" y1="320.5" x2="538.1" y2="320.5" class="gr"/>
<line x1="57.6" y1="299.5" x2="538.1" y2="299.5" class="gr"/>
<path d="M57.6 320.11 L57.84 320.12 L58.08 320.14 L58.32 320.18 L58.56 320.23 L58.8 320.29 L59.05 320.36 L59.29 320.44 L59.53 320.54 L59.77 320.71 L60.01 320.99 L60.25 321.36 L60.49 321.8 L60.73 322.31 L60.97 322.86 L61.21 323.61 L61.45 324.6 L61.69 325.78 L61.94 327.09 L62.18 328.47 L62.42 329.86 L62.66 331.21 L62.9 332.7 L63.14 334.33 L63.38 335.9 L63.62 337.22 L63.86 338.2 L64.1 339.07 L64.34 339.82 L64.58 340.41 L64.83 340.85 L65.07 341.26 L65.31 341.65 L65.55 342.01 L65.79 342.33 L66.03 342.61 L66.27 342.84 L66.51 343.01 L66.75 343.1 L66.99 343.12 L67.23 343.09 L67.47 343.03 L67.72 342.93 L67.96 342.81 L68.2 342.66 L68.44 342.49 L68.68 342.29 L68.92 342.08 L69.16 341.85 L69.4 341.6 L69.64 341.35 L69.88 341.05 L70.12 340.64 L70.37 340.14 L70.61 339.54 L70.85 338.88 L71.09 338.15 L71.33 337.38 L71.57 336.45 L71.81 335.34 L72.05 334.09 L72.29 332.77 L72.53 331.37 L72.77 329.73 L73.01 327.94 L73.26 326.18 L73.5 324.62 L73.74 323.23 L73.98 321.86 L74.22 320.62 L74.46 319.61 L74.7 318.93 L74.94 318.37 L75.18 317.84 L75.42 317.36 L75.66 316.92 L75.9 316.52 L76.15 316.17 L76.39 315.86 L76.63 315.61 L76.87 315.4 L77.11 315.25 L77.35 315.16 L77.59 315.08 L77.83 315 L78.07 314.93 L78.31 314.86 L78.55 314.79 L78.79 314.73 L79.04 314.67 L79.28 314.61 L79.52 314.56 L79.76 314.51 L80 314.46 L80.24 314.42 L80.48 314.38 L80.72 314.34 L80.96 314.31 L81.2 314.28 L81.44 314.25 L81.69 314.23 L81.93 314.21 L82.17 314.19 L82.41 314.18 L82.65 314.17 L82.89 314.16 L83.13 314.16 L83.37 314.16 L83.61 314.17 L83.85 314.18 L84.09 314.21 L84.33 314.25 L84.58 314.29 L84.82 314.34 L85.06 314.4 L85.3 314.47 L85.54 314.54 L85.78 314.62 L86.02 314.7 L86.26 314.79 L86.5 314.88 L86.74 314.97 L86.98 315.07 L87.22 315.18 L87.47 315.28 L87.71 315.39 L87.95 315.49 L88.19 315.6 L88.43 315.71 L88.67 315.82 L88.91 315.93 L89.15 316.04 L89.39 316.15 L89.63 316.26 L89.87 316.36 L90.12 316.46 L90.36 316.57 L90.6 316.69 L90.84 316.82 L91.08 316.95 L91.32 317.1 L91.56 317.24 L91.8 317.39 L92.04 317.55 L92.28 317.71 L92.52 317.86 L92.76 318.02 L93.01 318.18 L93.25 318.34 L93.49 318.49 L93.73 318.64 L93.97 318.79 L94.21 318.93 L94.45 319.06 L94.69 319.19 L94.93 319.31 L95.17 319.41 L95.41 319.51 L95.65 319.6 L95.9 319.67 L96.14 319.73 L96.38 319.79 L96.62 319.85 L96.86 319.91 L97.1 319.97 L97.34 320.02 L97.58 320.08 L97.82 320.12 L98.06 320.17 L98.3 320.21 L98.54 320.24 L98.79 320.27 L99.03 320.3 L99.27 320.31 L99.51 320.32 L99.75 320.32 L99.99 320.29 L100.23 320.25 L100.47 320.2 L100.71 320.13 L100.95 320.04 L101.19 319.95 L101.44 319.85 L101.68 319.74 L101.92 319.63 L102.16 319.52 L102.4 319.41 L102.64 319.31 L102.88 319.2 L103.12 319.11 L103.36 319.03 L103.6 318.96 L103.84 318.9 L104.08 318.86 L104.33 318.82 L104.57 318.78 L104.81 318.73 L105.05 318.69 L105.29 318.65 L105.53 318.62 L105.77 318.58 L106.01 318.54 L106.25 318.5 L106.49 318.47 L106.73 318.43 L106.97 318.39 L107.22 318.36 L107.46 318.33 L107.7 318.29 L107.94 318.26 L108.18 318.23 L108.42 318.2 L108.66 318.17 L108.9 318.14 L109.14 318.12 L109.38 318.09 L109.62 318.07 L109.86 318.04 L110.11 318.02 L110.35 318 L110.59 317.98 L110.83 317.96 L111.07 317.94 L111.31 317.93 L111.55 317.91 L111.79 317.9 L112.03 317.89 L112.27 317.88 L112.51 317.87 L112.76 317.86 L113 317.86 L113.24 317.86 L113.48 317.85 L113.72 317.86 L113.96 317.86 L114.2 317.86 L114.44 317.87 L114.68 317.88 L114.92 317.89 L115.16 317.9 L115.4 317.91 L115.65 317.93 L115.89 317.94 L116.13 317.96 L116.37 317.98 L116.61 318 L116.85 318.02 L117.09 318.04 L117.33 318.07 L117.57 318.09 L117.81 318.12 L118.05 318.14 L118.29 318.17 L118.54 318.19 L118.78 318.22 L119.02 318.25 L119.26 318.27 L119.5 318.3 L119.74 318.33 L119.98 318.36 L120.22 318.38 L120.46 318.41 L120.7 318.44 L120.94 318.46 L121.18 318.49 L121.43 318.52 L121.67 318.54 L121.91 318.57 L122.15 318.59 L122.39 318.61 L122.63 318.63 L122.87 318.65 L123.11 318.67 L123.35 318.69 L123.59 318.71 L123.83 318.73 L124.08 318.75 L124.32 318.76 L124.56 318.78 L124.8 318.8 L125.04 318.82 L125.28 318.84 L125.52 318.86 L125.76 318.87 L126 318.89 L126.24 318.91 L126.48 318.93 L126.72 318.95 L126.97 318.96 L127.21 318.98 L127.45 319 L127.69 319.02 L127.93 319.03 L128.17 319.05 L128.41 319.07 L128.65 319.09 L128.89 319.1 L129.13 319.12 L129.37 319.14 L129.61 319.15 L129.86 319.17 L130.1 319.19 L130.34 319.2 L130.58 319.22 L130.82 319.24 L131.06 319.25 L131.3 319.27 L131.54 319.28 L131.78 319.3 L132.02 319.31 L132.26 319.33 L132.51 319.35 L132.75 319.36 L132.99 319.37 L133.23 319.39 L133.47 319.4 L133.71 319.42 L133.95 319.43 L134.19 319.44 L134.43 319.46 L134.67 319.47 L134.91 319.48 L135.15 319.5 L135.4 319.51 L135.64 319.52 L135.88 319.53 L136.12 319.55 L136.36 319.56 L136.6 319.57 L136.84 319.58 L137.08 319.6 L137.32 319.61 L137.56 319.62 L137.8 319.63 L138.04 319.65 L138.29 319.66 L138.53 319.67 L138.77 319.68 L139.01 319.69 L139.25 319.71 L139.49 319.72 L139.73 319.73 L139.97 319.74 L140.21 319.75 L140.45 319.76 L140.69 319.77 L140.93 319.78 L141.18 319.79 L141.42 319.8 L141.66 319.81 L141.9 319.82 L142.14 319.83 L142.38 319.84 L142.62 319.85 L142.86 319.85 L143.1 319.86 L143.34 319.87 L143.58 319.88 L143.83 319.88 L144.07 319.89 L144.31 319.9 L144.55 319.9 L144.79 319.91 L145.03 319.91 L145.27 319.92 L145.51 319.92 L145.75 319.93 L145.99 319.94 L146.23 319.94 L146.47 319.95 L146.72 319.95 L146.96 319.96 L147.2 319.96 L147.44 319.97 L147.68 319.97 L147.92 319.98 L148.16 319.98 L148.4 319.99 L148.64 319.99 L148.88 320 L149.12 320 L149.36 320 L149.61 320.01 L149.85 320.01 L150.09 320.02 L150.33 320.02 L150.57 320.03 L150.81 320.03 L151.05 320.04 L151.29 320.04 L151.53 320.04 L151.77 320.05 L152.01 320.05 L152.25 320.06 L152.5 320.06 L152.74 320.06 L152.98 320.07 L153.22 320.07 L153.46 320.07 L153.7 320.08 L156.1 320.1 L165.9 320.11 L175.69 320.11 L185.49 320.11 L195.28 320.11 L205.08 320.11 L214.87 320.11 L224.67 320.11 L234.46 320.11 L244.26 320.11 L254.05 320.11 L263.85 320.11 L273.64 320.11 L283.44 320.11 L293.23 320.11 L303.02 320.11 L312.82 320.11 L322.61 320.11 L332.41 320.11 L342.2 320.11 L352 320.11 L361.79 320.11 L371.59 320.11 L381.38 320.11 L391.18 320.11 L400.97 320.11 L410.77 320.11 L420.56 320.11 L430.36 320.11 L440.15 320.11 L449.95 320.11 L459.74 320.11 L469.54 320.11 L479.33 320.11 L489.13 320.11 L498.92 320.11 L508.72 320.11 L518.51 320.11 L528.31 320.11 L538.1 320.11" class="or"/>
<path d="M57.6 320.11 L57.84 320.12 L58.08 320.14 L58.32 320.16 L58.56 320.2 L58.8 320.25 L59.05 320.31 L59.29 320.38 L59.53 320.46 L59.77 320.56 L60.01 320.66 L60.25 320.77 L60.49 320.89 L60.73 321.02 L60.97 321.16 L61.21 321.48 L61.45 322.05 L61.69 322.8 L61.94 323.68 L62.18 324.66 L62.42 325.66 L62.66 326.65 L62.9 327.57 L63.14 328.37 L63.38 329.11 L63.62 329.83 L63.86 330.54 L64.1 331.23 L64.34 331.9 L64.58 332.53 L64.83 333.14 L65.07 333.75 L65.31 334.37 L65.55 334.97 L65.79 335.52 L66.03 335.99 L66.27 336.37 L66.51 336.64 L66.75 336.88 L66.99 337.11 L67.23 337.33 L67.47 337.52 L67.72 337.68 L67.96 337.81 L68.2 337.91 L68.44 337.97 L68.68 337.99 L68.92 337.96 L69.16 337.91 L69.4 337.83 L69.64 337.72 L69.88 337.59 L70.12 337.44 L70.37 337.28 L70.61 337.1 L70.85 336.91 L71.09 336.61 L71.33 336.18 L71.57 335.65 L71.81 335.05 L72.05 334.39 L72.29 333.72 L72.53 333.05 L72.77 332.41 L73.01 331.82 L73.26 331.26 L73.5 330.7 L73.74 330.14 L73.98 329.58 L74.22 329 L74.46 328.41 L74.7 327.8 L74.94 327.16 L75.18 326.49 L75.42 325.73 L75.66 324.89 L75.9 324.01 L76.15 323.14 L76.39 322.33 L76.63 321.62 L76.87 321.04 L77.11 320.52 L77.35 320.02 L77.59 319.55 L77.83 319.1 L78.07 318.68 L78.31 318.29 L78.55 317.92 L78.79 317.6 L79.04 317.31 L79.28 317.05 L79.52 316.84 L79.76 316.66 L80 316.48 L80.24 316.32 L80.48 316.16 L80.72 316.01 L80.96 315.87 L81.2 315.75 L81.44 315.63 L81.69 315.52 L81.93 315.43 L82.17 315.35 L82.41 315.27 L82.65 315.21 L82.89 315.17 L83.13 315.12 L83.37 315.08 L83.61 315.05 L83.85 315.02 L84.09 314.99 L84.33 314.98 L84.58 314.98 L84.82 314.99 L85.06 315.02 L85.3 315.06 L85.54 315.11 L85.78 315.18 L86.02 315.25 L86.26 315.33 L86.5 315.42 L86.74 315.51 L86.98 315.61 L87.22 315.72 L87.47 315.82 L87.71 315.93 L87.95 316.04 L88.19 316.15 L88.43 316.26 L88.67 316.36 L88.91 316.46 L89.15 316.57 L89.39 316.69 L89.63 316.82 L89.87 316.95 L90.12 317.09 L90.36 317.24 L90.6 317.39 L90.84 317.55 L91.08 317.71 L91.32 317.86 L91.56 318.02 L91.8 318.18 L92.04 318.34 L92.28 318.49 L92.52 318.64 L92.76 318.78 L93.01 318.91 L93.25 319.04 L93.49 319.16 L93.73 319.27 L93.97 319.37 L94.21 319.46 L94.45 319.53 L94.69 319.61 L94.93 319.68 L95.17 319.76 L95.41 319.83 L95.65 319.9 L95.9 319.97 L96.14 320.04 L96.38 320.1 L96.62 320.17 L96.86 320.22 L97.1 320.28 L97.34 320.33 L97.58 320.38 L97.82 320.42 L98.06 320.45 L98.3 320.48 L98.54 320.5 L98.79 320.52 L99.03 320.52 L99.27 320.52 L99.51 320.52 L99.75 320.52 L99.99 320.52 L100.23 320.51 L100.47 320.51 L100.71 320.5 L100.95 320.49 L101.19 320.48 L101.44 320.48 L101.68 320.47 L101.92 320.46 L102.16 320.45 L102.4 320.44 L102.64 320.43 L102.88 320.42 L103.12 320.41 L103.36 320.4 L103.6 320.39 L103.84 320.38 L104.08 320.37 L104.33 320.36 L104.57 320.35 L104.81 320.34 L105.05 320.34 L105.29 320.33 L105.53 320.33 L105.77 320.32 L106.01 320.32 L106.25 320.32 L106.49 320.32 L106.73 320.32 L106.97 320.32 L107.22 320.32 L107.46 320.32 L107.7 320.32 L107.94 320.32 L108.18 320.32 L108.42 320.32 L108.66 320.32 L108.9 320.32 L109.14 320.32 L109.38 320.32 L109.62 320.32 L109.86 320.32 L110.11 320.32 L110.35 320.32 L110.59 320.32 L110.83 320.32 L111.07 320.32 L111.31 320.32 L111.55 320.32 L111.79 320.32 L112.03 320.32 L112.27 320.32 L112.51 320.32 L112.76 320.32 L113 320.32 L113.24 320.32 L113.48 320.32 L113.72 320.32 L113.96 320.32 L114.2 320.32 L114.44 320.32 L114.68 320.32 L114.92 320.32 L115.16 320.32 L115.4 320.32 L115.65 320.32 L115.89 320.32 L116.13 320.32 L116.37 320.32 L116.61 320.32 L116.85 320.32 L117.09 320.32 L117.33 320.32 L117.57 320.32 L117.81 320.32 L118.05 320.32 L118.29 320.32 L118.54 320.32 L118.78 320.32 L119.02 320.32 L119.26 320.32 L119.5 320.32 L119.74 320.32 L119.98 320.32 L120.22 320.32 L120.46 320.32 L120.7 320.32 L120.94 320.32 L121.18 320.32 L121.43 320.32 L121.67 320.32 L121.91 320.32 L122.15 320.32 L122.39 320.32 L122.63 320.32 L122.87 320.32 L123.11 320.32 L123.35 320.32 L123.59 320.32 L123.83 320.32 L124.08 320.32 L124.32 320.32 L124.56 320.32 L124.8 320.32 L125.04 320.32 L125.28 320.32 L125.52 320.32 L125.76 320.32 L126 320.32 L126.24 320.32 L126.48 320.32 L126.72 320.32 L126.97 320.32 L127.21 320.32 L127.45 320.32 L127.69 320.32 L127.93 320.32 L128.17 320.32 L128.41 320.32 L128.65 320.32 L128.89 320.32 L129.13 320.32 L129.37 320.32 L129.61 320.32 L129.86 320.32 L130.1 320.32 L130.34 320.32 L130.58 320.32 L130.82 320.32 L131.06 320.32 L131.3 320.32 L131.54 320.32 L131.78 320.32 L132.02 320.32 L132.26 320.32 L132.51 320.32 L132.75 320.32 L132.99 320.32 L133.23 320.32 L133.47 320.32 L133.71 320.32 L133.95 320.32 L134.19 320.32 L134.43 320.32 L134.67 320.32 L134.91 320.32 L135.15 320.32 L135.4 320.32 L135.64 320.32 L135.88 320.32 L136.12 320.32 L136.36 320.32 L136.6 320.32 L136.84 320.32 L137.08 320.32 L137.32 320.32 L137.56 320.32 L137.8 320.32 L138.04 320.32 L138.29 320.32 L138.53 320.32 L138.77 320.32 L139.01 320.32 L139.25 320.32 L139.49 320.32 L139.73 320.32 L139.97 320.32 L140.21 320.32 L140.45 320.32 L140.69 320.32 L140.93 320.32 L141.18 320.32 L141.42 320.32 L141.66 320.32 L141.9 320.32 L142.14 320.32 L142.38 320.32 L142.62 320.32 L142.86 320.32 L143.1 320.32 L143.34 320.32 L143.58 320.32 L143.83 320.32 L144.07 320.32 L144.31 320.32 L144.55 320.32 L144.79 320.32 L145.03 320.32 L145.27 320.32 L145.51 320.32 L145.75 320.32 L145.99 320.32 L146.23 320.32 L146.47 320.32 L146.72 320.32 L146.96 320.32 L147.2 320.32 L147.44 320.32 L147.68 320.32 L147.92 320.32 L148.16 320.32 L148.4 320.32 L148.64 320.32 L148.88 320.32 L149.12 320.32 L149.36 320.32 L149.61 320.32 L149.85 320.32 L150.09 320.32 L150.33 320.32 L150.57 320.32 L150.81 320.32 L151.05 320.32 L151.29 320.32 L151.53 320.32 L151.77 320.32 L152.01 320.32 L152.25 320.32 L152.5 320.32 L152.74 320.32 L152.98 320.32 L153.22 320.32 L153.46 320.32 L153.7 320.32 L156.1 320.32 L165.9 320.32 L175.69 320.32 L185.49 320.32 L195.28 320.32 L205.08 320.32 L214.87 320.32 L224.67 320.32 L234.46 320.32 L244.26 320.32 L254.05 320.32 L263.85 320.32 L273.64 320.32 L283.44 320.32 L293.23 320.32 L303.02 320.32 L312.82 320.32 L322.61 320.32 L332.41 320.32 L342.2 320.32 L352 320.32 L361.79 320.32 L371.59 320.32 L381.38 320.32 L391.18 320.32 L400.97 320.32 L410.77 320.32 L420.56 320.32 L430.36 320.32 L440.15 320.32 L449.95 320.32 L459.74 320.32 L469.54 320.32 L479.33 320.32 L489.13 320.32 L498.92 320.32 L508.72 320.32 L518.51 320.32 L528.31 320.32 L538.1 320.32" class="bl" stroke-dashoffset="10.63"/>
<line x1="57.6" y1="361.2" x2="57.6" y2="356.4" class="ax"/>
<line x1="57.6" y1="289.3" x2="57.6" y2="294.1" class="ax"/>
<line x1="105.65" y1="361.2" x2="105.65" y2="356.4" class="ax"/>
<line x1="105.65" y1="289.3" x2="105.65" y2="294.1" class="ax"/>
<line x1="153.7" y1="361.2" x2="153.7" y2="356.4" class="ax"/>
<line x1="153.7" y1="289.3" x2="153.7" y2="294.1" class="ax"/>
<line x1="201.75" y1="361.2" x2="201.75" y2="356.4" class="ax"/>
<line x1="201.75" y1="289.3" x2="201.75" y2="294.1" class="ax"/>
<line x1="249.8" y1="361.2" x2="249.8" y2="356.4" class="ax"/>
<line x1="249.8" y1="289.3" x2="249.8" y2="294.1" class="ax"/>
<line x1="297.85" y1="361.2" x2="297.85" y2="356.4" class="ax"/>
<line x1="297.85" y1="289.3" x2="297.85" y2="294.1" class="ax"/>
<line x1="345.9" y1="361.2" x2="345.9" y2="356.4" class="ax"/>
<line x1="345.9" y1="289.3" x2="345.9" y2="294.1" class="ax"/>
<line x1="393.95" y1="361.2" x2="393.95" y2="356.4" class="ax"/>
<line x1="393.95" y1="289.3" x2="393.95" y2="294.1" class="ax"/>
<line x1="442" y1="361.2" x2="442" y2="356.4" class="ax"/>
<line x1="442" y1="289.3" x2="442" y2="294.1" class="ax"/>
<line x1="490.05" y1="361.2" x2="490.05" y2="356.4" class="ax"/>
<line x1="490.05" y1="289.3" x2="490.05" y2="294.1" class="ax"/>
<line x1="538.1" y1="361.2" x2="538.1" y2="356.4" class="ax"/>
<line x1="538.1" y1="289.3" x2="538.1" y2="294.1" class="ax"/>
<line x1="57.6" y1="361.2" x2="62.4" y2="361.2" class="ax"/>
<line x1="538.1" y1="361.2" x2="533.3" y2="361.2" class="ax"/>
<line x1="57.6" y1="340.66" x2="62.4" y2="340.66" class="ax"/>
<line x1="538.1" y1="340.66" x2="533.3" y2="340.66" class="ax"/>
<line x1="57.6" y1="320.11" x2="62.4" y2="320.11" class="ax"/>
<line x1="538.1" y1="320.11" x2="533.3" y2="320.11" class="ax"/>
<line x1="57.6" y1="299.57" x2="62.4" y2="299.57" class="ax"/>
<line x1="538.1" y1="299.57" x2="533.3" y2="299.57" class="ax"/>
<rect x="57.6" y="289.3" width="480.5" height="71.9" class="box"/>
<text x="57.6" y="381.8" class="tk" text-anchor="middle">0</text>
<text x="105.65" y="381.8" class="tk" text-anchor="middle">0.2</text>
<text x="153.7" y="381.8" class="tk" text-anchor="middle">0.4</text>
<text x="201.75" y="381.8" class="tk" text-anchor="middle">0.6</text>
<text x="249.8" y="381.8" class="tk" text-anchor="middle">0.8</text>
<text x="297.85" y="381.8" class="tk" text-anchor="middle">1</text>
<text x="345.9" y="381.8" class="tk" text-anchor="middle">1.2</text>
<text x="393.95" y="381.8" class="tk" text-anchor="middle">1.4</text>
<text x="442" y="381.8" class="tk" text-anchor="middle">1.6</text>
<text x="490.05" y="381.8" class="tk" text-anchor="middle">1.8</text>
<text x="538.1" y="381.8" class="tk" text-anchor="middle">2</text>
<text x="50.5" y="366.7" class="tk" text-anchor="end">-0.2</text>
<text x="50.5" y="346.16" class="tk" text-anchor="end">-0.1</text>
<text x="50.5" y="325.61" class="tk" text-anchor="end">0</text>
<text x="50.5" y="305.07" class="tk" text-anchor="end">0.1</text>
<text x="296.45" y="401.4" class="lb" text-anchor="middle">time(s)</text>
<text transform="translate(19.2,327.45) rotate(-90)" x="0" y="0" class="lb" text-anchor="middle">r(<tspan dy="2.2">°</tspan><tspan dy="-2.2" fill="#777" stroke="#777">/</tspan>s)</text>
<rect x="431.7" y="289.3" width="106.4" height="40.5" class="leg"/>
<line x1="435.9" y1="302.7" x2="468.7" y2="302.7" class="or"/>
<line x1="435.5" y1="321.3" x2="469.1" y2="321.3" class="bl"/>
<text x="472.7" y="304.4" class="lg">r<tspan class="sub" dy="5.5">r</tspan><tspan dy="-5.5"> with PPB</tspan></text>
<text x="472.7" y="325.5" class="lg">r with PPB</text>
</g>
</svg>
</body></html>
